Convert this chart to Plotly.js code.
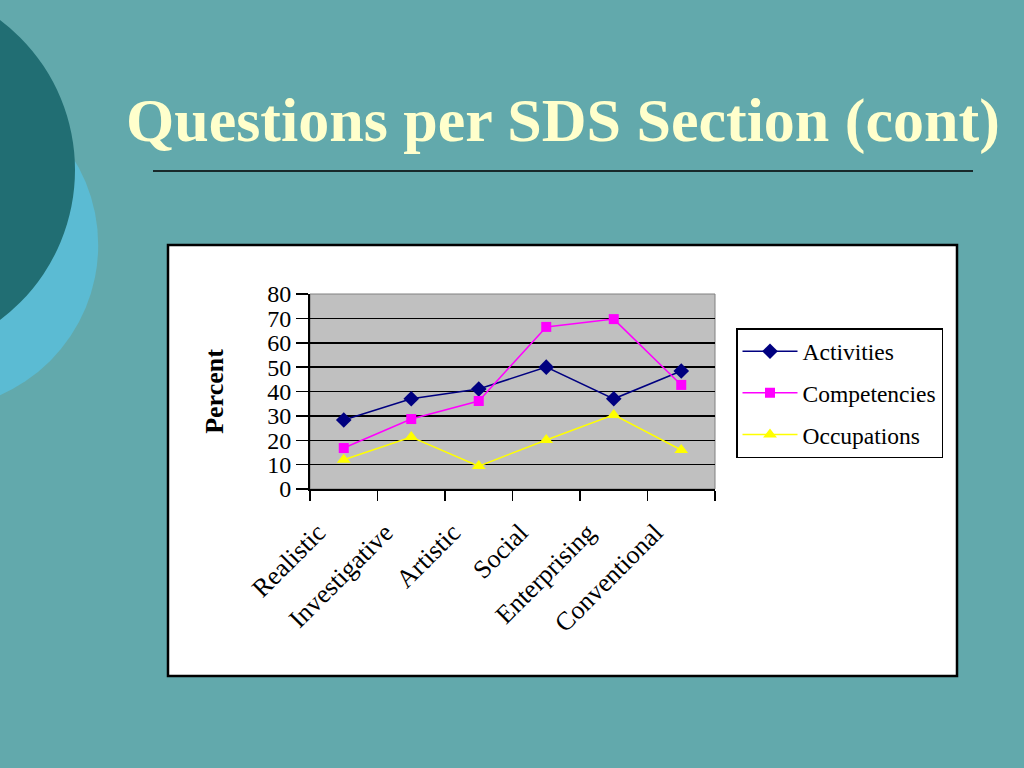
<!DOCTYPE html>
<html>
<head>
<meta charset="utf-8">
<script src="https://cdn.plot.ly/plotly-3.0.1.min.js"></script>
<style>html,body{margin:0;padding:0;background:#62A9AC;}#chart{width:1024px;height:768px;}</style>
</head>
<body>
<div id="chart"></div>
<script>
const categories = ["Realistic", "Investigative", "Artistic", "Social", "Enterprising", "Conventional"];
const activities = [28.3, 37, 41, 50, 37, 48.4];
const competencies = [16.8, 28.7, 36.1, 66.5, 69.7, 42.7];
const occupations = [12, 21.3, 9.4, 20.1, 30.4, 16];
const yTicks = [0, 10, 20, 30, 40, 50, 60, 70, 80];
const seriesNames = ["Activities", "Competencies", "Occupations"];
const titleText = "Questions per SDS Section (cont)";
const yTitle = "Percent";

const W = 1024, H = 768;
const px = v => v / W;
const py = v => 1 - v / H;

const serif = "Liberation Serif, Times New Roman, serif";

function mk(name, y, color, symbol, size, group) {
  return {
    type: "scatter", mode: "lines+markers", name: name, x: categories, y: y,
    legendgroup: group,
    line: {color: color, width: 1.5},
    marker: {color: color, symbol: symbol, size: size, line: {width: 0}}
  };
}

const data = [
  mk(seriesNames[0], activities, "#000080", "diamond", 12, "a"),
  mk(seriesNames[1], competencies, "#FF00FF", "square", 10, "b"),
  mk(seriesNames[2], occupations, "#FFFF00", "triangle-up", 12, "c")
];

const layout = {
  width: W, height: H,
  margin: {l: 0, r: 0, t: 0, b: 0},
  paper_bgcolor: "#62A9AC",
  plot_bgcolor: "rgba(0,0,0,0)",
  showlegend: true,
  legend: {
    x: px(736), y: py(328), xanchor: "left", yanchor: "top",
    bgcolor: "#FFFFFF", bordercolor: "#000000", borderwidth: 1.5,
    font: {family: serif, size: 23.5, color: "#000000"},
    tracegroupgap: 8,
    itemwidth: 55
  },
  xaxis: {
    domain: [px(310), px(715)],
    type: "category",
    range: [-0.5, 5.5],
    tickson: "boundaries",
    ticks: "outside", ticklen: 10, tickwidth: 1.5, tickcolor: "#000000",
    showline: true, linecolor: "#000000", linewidth: 2,
    showgrid: false, zeroline: false,
    tickangle: -45,
    ticklabelstandoff: 16,
    ticklabelshift: -26,
    tickfont: {family: serif, size: 26, color: "#000000"},
    fixedrange: true
  },
  yaxis: {
    domain: [py(489), py(294)],
    range: [0, 80],
    tickvals: yTicks,
    ticktext: yTicks.map(String),
    ticks: "outside", ticklen: 12, tickwidth: 1.5, tickcolor: "#000000",
    showline: true, linecolor: "#000000", linewidth: 2,
    showgrid: true, gridcolor: "#000000", gridwidth: 1.5,
    zeroline: false,
    tickfont: {family: serif, size: 24, color: "#000000"},
    title: {text: "<b>" + yTitle + "</b>", font: {family: serif, size: 26, color: "#000000"}, standoff: 36},
    fixedrange: true
  },
  shapes: [
    {type: "circle", xref: "paper", yref: "paper", layer: "below",
     x0: px(-65.8 - 164), x1: px(-65.8 + 164), y0: py(245 + 164), y1: py(245 - 164),
     fillcolor: "#5BBBD3", line: {width: 0}},
    {type: "circle", xref: "paper", yref: "paper", layer: "below",
     x0: px(-112.5 - 187.5), x1: px(-112.5 + 187.5), y0: py(170 + 187.5), y1: py(170 - 187.5),
     fillcolor: "#216E73", line: {width: 0}},
    {type: "line", xref: "paper", yref: "paper", layer: "below",
     x0: px(153), x1: px(973), y0: py(171), y1: py(171),
     line: {color: "#000000", width: 1.5}},
    {type: "rect", xref: "paper", yref: "paper", layer: "below",
     x0: px(168), x1: px(957), y0: py(676), y1: py(245),
     fillcolor: "#FFFFFF", line: {color: "#000000", width: 2.5}},
    {type: "rect", xref: "x domain", yref: "y domain", layer: "below",
     x0: 0, x1: 1, y0: 0, y1: 1,
     fillcolor: "#C0C0C0", line: {color: "#808080", width: 1}}
  ],
  annotations: [
    {text: "<b>" + titleText + "</b>", xref: "paper", yref: "paper",
     x: px(563), y: py(120), xanchor: "center", yanchor: "middle", showarrow: false,
     font: {family: serif, size: 62, color: "#FFFFCC"}}
  ]
};

Plotly.newPlot("chart", data, layout, {displayModeBar: false, staticPlot: true});
</script>
</body>
</html>
